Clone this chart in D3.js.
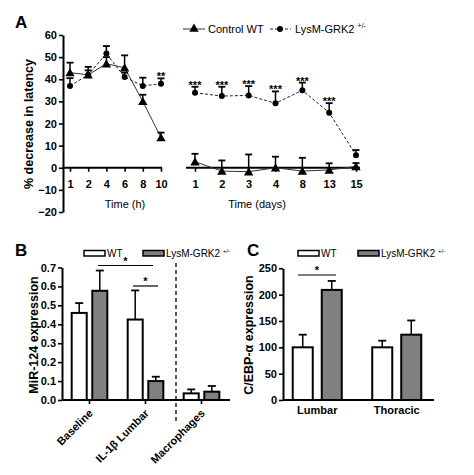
<!DOCTYPE html>
<html>
<head>
<meta charset="utf-8">
<script src="https://cdn.jsdelivr.net/npm/d3@7"></script>
<style>
  body { margin: 0; background: #fff; }
  svg { font-family: "Liberation Sans", Arial, sans-serif; }
</style>
</head>
<body>
<svg id="chart" width="474" height="475"></svg>
<script>
// ---- panel A: latency over time ----
const hours = ["1", "2", "4", "6", "8", "10"];
const wtHours = [43, 42, 47, 45.2, 30, 13.6];
const wtHoursErr = [4.5, 3.6, 3, 5.6, 3, 2.3];
const koHours = [37, 42, 51.6, 41, 37, 38];
const koHoursErr = [3.5, 2, 3.4, 2, 3.7, 2.4];
const koHoursStars = ["", "", "", "", "", "**"];

const days = ["1", "2", "3", "4", "8", "13", "15"];
const wtDays = [2.7, -1.5, -1.8, 0, -1.5, -1, 0.6];
const wtDaysErr = [3.6, 4.8, 7.8, 5, 6, 3, 1.5];
const koDays = [33.9, 32.4, 32.7, 29.1, 35, 24.9, 5.7];
const koDaysErr = [2.7, 4.2, 4.2, 5.4, 3.5, 4.3, 2.3];
const koDaysStars = ["***", "***", "***", "***", "***", "***", ""];

const latencyTicks = [-20, -10, 0, 10, 20, 30, 40, 50, 60];

// ---- panel B: MiR-124 ----
const groupsB = ["Baseline", "IL-1\u03b2  Lumbar", "Macrophages"];
const wtB = [0.46, 0.425, 0.035];
const wtBErr = [0.052, 0.154, 0.021];
const koB = [0.577, 0.1, 0.044];
const koBErr = [0.107, 0.023, 0.03];
const ticksB = [0, 0.1, 0.2, 0.3, 0.4, 0.5, 0.6, 0.7];

// ---- panel C: C/EBP-alpha ----
const groupsC = ["Lumbar", "Thoracic"];
const wtC = [100, 100];
const wtCErr = [24, 12.6];
const koC = [209, 124];
const koCErr = [17, 27];
const ticksC = [0, 50, 100, 150, 200, 250];

const svg = d3.select("#chart");
svg.append("rect").attr("width", 474).attr("height", 475).attr("fill", "#fff");

function errBar(g, x, y0, y1, w) {
  g.append("line").attr("x1", x).attr("x2", x).attr("y1", y0).attr("y2", y1)
    .attr("stroke", "#000").attr("stroke-width", 1.5);
  g.append("line").attr("x1", x - w / 2).attr("x2", x + w / 2).attr("y1", y1).attr("y2", y1)
    .attr("stroke", "#000").attr("stroke-width", 1.8);
}

function styleAxis(g) {
  g.select(".domain").attr("stroke-width", 2);
  g.selectAll(".tick line").attr("stroke-width", 1.6);
  g.selectAll(".tick text").attr("font-weight", "bold").attr("fill", "#000");
}

function panelLabel(t, x, y) {
  svg.append("text").attr("x", x).attr("y", y).text(t)
    .attr("font-size", 17).attr("font-weight", "bold");
}

// =================== Panel A ===================
panelLabel("A", 15, 28);

const yA = d3.scaleLinear().domain([-20, 60]).range([212, 35]);
const xL = d3.scalePoint().domain(hours).range([70, 161]);
const xR = d3.scalePoint().domain(days).range([195, 356]);

const gA = svg.append("g");

gA.append("g").attr("transform", "translate(63,0)")
  .call(d3.axisLeft(yA).tickValues(latencyTicks).tickSize(4).tickSizeOuter(0).tickPadding(2))
  .call(styleAxis)
  .call(g => g.selectAll(".tick text").attr("font-size", 11));

function timeAxis(x, x0, x1) {
  const g = gA.append("g").attr("transform", `translate(0,${yA(0)})`)
    .call(d3.axisBottom(x).tickSize(4).tickPadding(8))
    .call(styleAxis)
    .call(g => g.selectAll(".tick text").attr("font-size", 11));
  g.select(".domain").remove();
  g.append("line").attr("x1", x0).attr("x2", x1).attr("stroke", "#000").attr("stroke-width", 2.2);
}
timeAxis(xL, 63, 162);
timeAxis(xR, 186, 360);

gA.append("text").attr("x", 125).attr("y", 208).attr("text-anchor", "middle")
  .attr("font-size", 11).text("Time (h)");
gA.append("text").attr("x", 257).attr("y", 208).attr("text-anchor", "middle")
  .attr("font-size", 11).text("Time (days)");
gA.append("text").attr("transform", "translate(33,124) rotate(-90)").attr("text-anchor", "middle")
  .attr("font-size", 12.5).attr("font-weight", "bold").text("% decrease in latency");

const triangle = d3.symbol().type(d3.symbolTriangle).size(38);

function series(x, cats, vals, errs, stars, isKO) {
  const pts = cats.map((c, i) => ({ x: x(c), y: yA(vals[i]), top: yA(vals[i] + errs[i]), star: stars ? stars[i] : "" }));
  const line = d3.line().x(d => d.x).y(d => d.y);
  gA.append("path").datum(pts).attr("d", line).attr("fill", "none")
    .attr("stroke", isKO ? "#222" : "#333").attr("stroke-width", 1)
    .attr("stroke-dasharray", isKO ? "3,2" : null);
  pts.forEach(p => errBar(gA, p.x, p.y, p.top, 7));
  if (isKO) {
    gA.selectAll(null).data(pts).join("circle")
      .attr("cx", d => d.x).attr("cy", d => d.y).attr("r", 3).attr("fill", "#000");
    gA.selectAll(null).data(pts.filter(d => d.star)).join("text")
      .attr("x", d => d.x).attr("y", d => d.top + 2).attr("text-anchor", "middle")
      .attr("font-size", 11).attr("font-weight", "bold").text(d => d.star);
  } else {
    gA.selectAll(null).data(pts).join("path")
      .attr("transform", d => `translate(${d.x},${d.y + 1})`).attr("d", triangle).attr("fill", "#000");
  }
}
series(xL, hours, wtHours, wtHoursErr, null, false);
series(xL, hours, koHours, koHoursErr, koHoursStars, true);
series(xR, days, wtDays, wtDaysErr, null, false);
series(xR, days, koDays, koDaysErr, koDaysStars, true);

// legend A
const legA = gA.append("g");
legA.append("line").attr("x1", 183).attr("x2", 205).attr("y1", 29).attr("y2", 29)
  .attr("stroke", "#333").attr("stroke-width", 1);
legA.append("path").attr("transform", "translate(194,29)").attr("d", triangle).attr("fill", "#000");
legA.append("text").attr("x", 208).attr("y", 33).attr("font-size", 11).text("Control WT");
legA.append("line").attr("x1", 270).attr("x2", 291).attr("y1", 29).attr("y2", 29)
  .attr("stroke", "#222").attr("stroke-width", 1).attr("stroke-dasharray", "3,2");
legA.append("circle").attr("cx", 280).attr("cy", 29).attr("r", 3).attr("fill", "#000");
const tA = legA.append("text").attr("x", 295).attr("y", 33).attr("font-size", 11).text("LysM-GRK2 ");
tA.append("tspan").attr("font-size", 7).attr("dy", -5).text("+/-");

// =================== bar panels ===================
function barPanel(opt) {
  const g = svg.append("g");
  const y = d3.scaleLinear().domain(opt.domain).range([400, opt.top]);
  const x0 = d3.scaleBand().domain(opt.groups).range(opt.range);
  const x1 = d3.scaleBand().domain(["WT", "KO"]).range([0, x0.bandwidth()])
    .paddingInner(opt.inner).paddingOuter(opt.outer);

  opt.groups.forEach((grp, i) => {
    [["WT", opt.wt, opt.wtErr, "#fff"], ["KO", opt.ko, opt.koErr, "#808080"]].forEach(([k, v, e, fill]) => {
      const bx = x0(grp) + x1(k);
      const cx = bx + x1.bandwidth() / 2;
      errBar(g, cx, y(v[i]), y(v[i] + e[i]), 8);
      g.append("rect").attr("x", bx).attr("y", y(v[i]))
        .attr("width", x1.bandwidth()).attr("height", y(0) - y(v[i]))
        .attr("fill", fill).attr("stroke", "#000").attr("stroke-width", 2);
    });
  });

  g.append("g").attr("transform", `translate(${opt.axisX},0)`)
    .call(d3.axisLeft(y).tickValues(opt.ticks).tickFormat(opt.fmt).tickSize(4).tickSizeOuter(0).tickPadding(2))
    .call(styleAxis)
    .call(g => g.selectAll(".tick text").attr("font-size", 11));

  const xa = g.append("g").attr("transform", `translate(0,${y(0)})`)
    .call(d3.axisBottom(x0).tickSize(opt.xTick).tickPadding(opt.xPad))
    .call(styleAxis)
    .call(g => g.selectAll(".tick text").attr("font-size", 11));
  xa.select(".domain").remove();
  xa.append("line").attr("x1", opt.axisX).attr("x2", opt.axisEnd).attr("stroke", "#000").attr("stroke-width", 2.2);
  if (opt.rotate) {
    xa.selectAll(".tick text").attr("text-anchor", "end").attr("dy", null)
      .attr("transform", "translate(4,14) rotate(-45)").attr("y", 0).attr("x", 0);
  }

  g.append("text").attr("transform", `translate(${opt.labelX},335) rotate(-90)`).attr("text-anchor", "middle")
    .attr("font-size", 12.5).attr("font-weight", "bold").text(opt.label);

  // legend
  const lg = g.append("g");
  lg.append("rect").attr("x", opt.leg[0]).attr("y", 250.5).attr("width", 21).attr("height", 5.5)
    .attr("fill", "#fff").attr("stroke", "#000").attr("stroke-width", 1.5);
  lg.append("text").attr("x", opt.leg[0] + 23).attr("y", 257).attr("font-size", 10).text("WT");
  lg.append("rect").attr("x", opt.leg[1]).attr("y", 250.5).attr("width", 21).attr("height", 5.5)
    .attr("fill", "#808080").attr("stroke", "#000").attr("stroke-width", 1.5);
  const t = lg.append("text").attr("x", opt.leg[1] + 23).attr("y", 257).attr("font-size", 10).text("LysM-GRK2 ");
  t.append("tspan").attr("font-size", 6).attr("dy", -4).text("+/-");

  // significance bars
  opt.sig.forEach(([xa1, xa2, yy]) => {
    g.append("line").attr("x1", xa1).attr("x2", xa2).attr("y1", yy).attr("y2", yy)
      .attr("stroke", "#000").attr("stroke-width", 1.2);
    g.append("text").attr("x", (xa1 + xa2) / 2).attr("y", yy - 1).attr("text-anchor", "middle")
      .attr("font-size", 11).attr("font-weight", "bold").text("*");
  });
  return { g, x0, y };
}

panelLabel("B", 15, 256);
const pB = barPanel({
  groups: groupsB, wt: wtB, wtErr: wtBErr, ko: koB, koErr: koBErr,
  domain: [0, 0.7], top: 267.5, ticks: ticksB, fmt: d3.format(".1f"),
  range: [61.5, 229.5], inner: 0.27, outer: 0.494,
  axisX: 62, axisEnd: 230, xTick: 4, xPad: 3, rotate: true,
  labelX: 38, label: "MiR-124 expression", leg: [84, 143],
  sig: [[98, 153, 265.5], [133, 158, 286]]
});
// dashed divider before macrophages
pB.g.append("line").attr("x1", 176).attr("x2", 176).attr("y1", 263).attr("y2", 423)
  .attr("stroke", "#000").attr("stroke-width", 1.3).attr("stroke-dasharray", "4,3");

panelLabel("C", 247, 256);
barPanel({
  groups: groupsC, wt: wtC, wtErr: wtCErr, ko: koC, koErr: koCErr,
  domain: [0, 250], top: 268.3, ticks: ticksC, fmt: d3.format("d"),
  range: [277.5, 436.5], inner: 0.31, outer: 0.525,
  axisX: 283, axisEnd: 434, xTick: 0, xPad: 6, rotate: false,
  labelX: 253, label: "C/EBP-\u03b1 expression", leg: [298, 358],
  sig: [[298, 336, 275]]
});
</script>
</body>
</html>
